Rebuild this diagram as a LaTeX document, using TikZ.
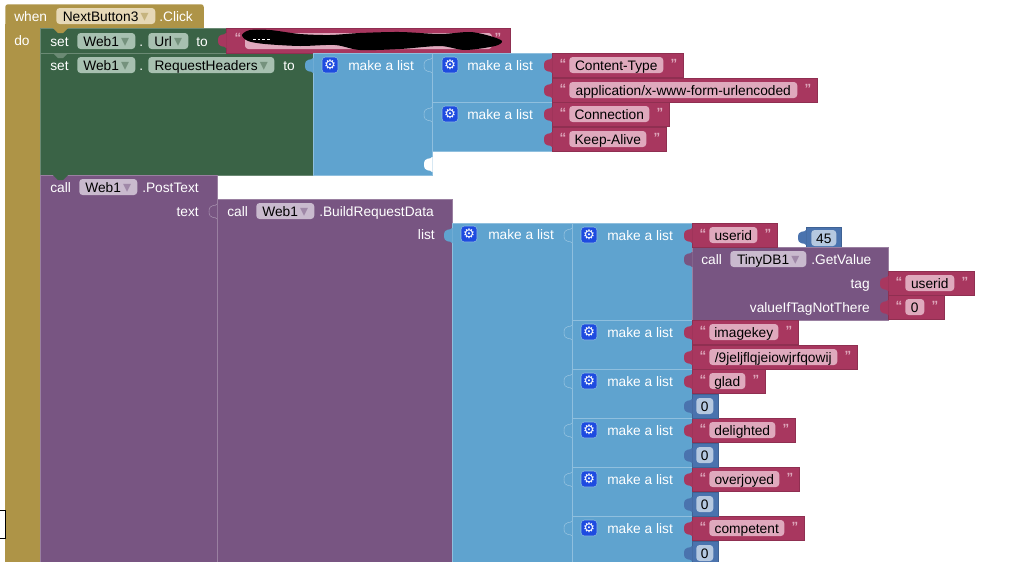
\documentclass[tikz,border=0pt]{standalone}
\usepackage{fontspec}
\setmainfont{Liberation Sans}
\newfontfamily\symfont{DejaVu Sans}
\definecolor{ctrlgold}{HTML}{AE9447}
\definecolor{ctrlgoldpale}{HTML}{E6D8B6}
\definecolor{setgreen}{HTML}{3A6346}
\definecolor{setgreenpale}{HTML}{A7C0B0}
\definecolor{procpurple}{HTML}{785582}
\definecolor{procpurplepale}{HTML}{C9BACE}
\definecolor{listblue}{HTML}{5FA3CF}
\definecolor{listedge}{HTML}{8FBFDE}
\definecolor{gearblue}{HTML}{1E4BE0}
\definecolor{strpink}{HTML}{A8375F}
\definecolor{strpinkpale}{HTML}{DFA9BD}
\definecolor{numblue}{HTML}{4A73AE}
\definecolor{numbluepale}{HTML}{B5C8E0}
\newcommand{\dropmark}[1]{\,\textcolor{#1}{\symfont\fontsize{12}{12}\selectfont ▾}}
\tikzset{
  x=0.75pt, y=-0.75pt,
  every node/.style={font=\fontsize{10.3}{12}\selectfont, inner sep=0pt, text height=8pt, text depth=0pt},
  blockbox/.style={rectangle, anchor=north west, inner sep=0pt},
  lbl/.style={anchor=west, text=white},
  lblr/.style={anchor=east, text=white},
  pill/.style={anchor=west, rounded corners=2.5pt, minimum height=12pt, text=black},
  strbox/.style={blockbox, fill=strpink, draw=strpink!85!black, line width=0.5pt, minimum height=18.2pt},
  strfield/.style={pill, fill=strpinkpale},
  quotemark/.style={anchor=center, text=strpinkpale, font=\bfseries\fontsize{10}{10}\selectfont},
  numbox/.style={blockbox, fill=numblue, draw=numblue!85!black, line width=0.5pt, minimum height=18.2pt},
  numfield/.style={pill, fill=numbluepale},
  listbox/.style={blockbox, fill=listblue, draw=listedge, line width=0.5pt},
  gearbox/.style={anchor=center, fill=gearblue, draw=listedge, line width=0.4pt, rounded corners=2.5pt, minimum size=12pt, text=white, font=\symfont\fontsize{10}{10}\selectfont, text height=6.5pt, text depth=0.5pt},
  pics/tab/.style={code={\fill[#1] (0.5,0) -- (0,0) .. controls (-1,3) and (-8,-1) .. (-8,7.5) .. controls (-8,16) and (-1,12) .. (0,15) -- (0.5,15) -- cycle;}},
  pics/ghost/.style={code={\filldraw[fill=#1, draw=#1!65!white, line width=0.4pt] (0,0) .. controls (-1,3) and (-8,-1) .. (-8,7.5) .. controls (-8,16) and (-1,12) .. (0,15);}},
  pics/notch/.style={code={\fill[#1] (0,0) -- (5,5) -- (10,5) -- (15,0) -- cycle;}},
}
\begin{document}
\begin{tikzpicture}
    \path[use as bounding box] (0,0) rectangle (1024,561);
    \clip (0,0) rectangle (1024,561);

    % Event block
    \node[blockbox, fill=ctrlgold, rounded corners=2pt, minimum width=198.5*0.75pt, minimum height=30*0.75pt] (whenrow) at (5,4) {};
    \node[blockbox, fill=ctrlgold, minimum width=35*0.75pt, minimum height=541*0.75pt] (dorow) at (5,24) {};
    \node[draw=black, fill=white, line width=0.9pt, blockbox, minimum width=6*0.75pt, minimum height=28*0.75pt] (stray) at (-1,510) {};
    \node[lbl] (whentxt) at (14,16) {when};
    \node[pill, fill=ctrlgoldpale, minimum width=99*0.75pt] (btnfield) at (56,16) {NextButton3\dropmark{ctrlgold!70!white}};
    \node[lbl] (clicktxt) at (159,16) {.Click};
    \node[lbl] (dotxt) at (14,40) {do};

    % Setter blocks
    \node[blockbox, fill=setgreen, draw=setgreen!75!white, line width=0.5pt, minimum width=186*0.75pt, minimum height=25*0.75pt] (seturl) at (40,28) {};
    \node[blockbox, fill=setgreen, draw=setgreen!75!white, line width=0.5pt, minimum width=273*0.75pt, minimum height=122*0.75pt] (setheaders) at (40,53) {};
    \pic at (53,28) {notch=ctrlgold};
    \pic at (53,53) {notch=setgreen!75!white};
    \node[lbl] (settxta) at (50,41) {set};
    \node[pill, fill=setgreenpale, minimum width=58*0.75pt] (weba) at (77,41) {Web1\dropmark{setgreen!70!white}};
    \node[lbl] (dota) at (139,41) {.};
    \node[pill, fill=setgreenpale, minimum width=40*0.75pt] (urlfield) at (148,41) {Url\dropmark{setgreen!70!white}};
    \node[lbl] (totxta) at (196,41) {to};
    \node[lbl] (settxtb) at (50,65) {set};
    \node[pill, fill=setgreenpale, minimum width=58*0.75pt] (webb) at (77,65) {Web1\dropmark{setgreen!70!white}};
    \node[lbl] (dotb) at (139,65) {.};
    \node[pill, fill=setgreenpale, minimum width=126*0.75pt] (reqfield) at (148,65) {RequestHeaders\dropmark{setgreen!70!white}};
    \node[lbl] (totxtb) at (283,65) {to};

    % Hidden url string
    \node[strbox, minimum width=284*0.75pt, minimum height=25*0.75pt] (urlstr) at (226,28) {};
    \pic at (226,33) {tab=strpink};
    \node[quotemark] (urlopen) at (238,37) {“};
    \node[quotemark] (urlclose) at (498,37) {”};
    \fill[strpinkpale, rounded corners=2.5pt] (245,33) rectangle (492,49);
    \fill[black] plot[smooth cycle] coordinates {(242,35) (250,30) (270,30) (300,34) (330,35) (360,33) (400,32) (440,34)
      (470,32) (490,36) (502,41) (495,46) (465,50) (440,46) (400,49) (360,50) (335,45) (300,46) (265,44) (248,41)};
    \draw[white, line width=0.6pt, dash pattern=on 2pt off 1.5pt] (253,39) -- (270,39);

    % Header lists
    \node[listbox, minimum width=119*0.75pt, minimum height=122*0.75pt] (headlist) at (313,53) {};
    \pic at (313,58) {tab=listblue};
    \node[gearbox] (gearh) at (330,65) {⚙};
    \node[lbl] (headtxt) at (348,65) {make a list};
    \pic at (432,157) {tab=white};
    \foreach \ytop in {53,102} {
      \node[listbox, minimum width=120*0.75pt, minimum height=49*0.75pt] (hlist\ytop) at (432,\ytop) {};
      \pic at (432,\ytop+5) {ghost=listblue};
      \node[gearbox] (gear\ytop) at (450,\ytop+12) {⚙};
      \node[lbl] (htxt\ytop) at (467,\ytop+12) {make a list};
    }

    % Header strings
    \foreach \x/\y/\r/\t in {552/53/683/Content-Type, 552/78/817/application\slash x-www-form-urlencoded, 552/102/669/Connection, 552/127/666/Keep-Alive} {
      \node[strbox, minimum width=(\r-\x)*0.75pt] (str\y) at (\x,\y) {};
      \pic at (\x,\y+5) {tab=strpink};
      \node[quotemark] (open\y) at (\x+11,\y+10) {“};
      \node[strfield, minimum width=(\r-\x-37)*0.75pt] (field\y) at (\x+17,\y+12) {\t};
      \node[quotemark] (close\y) at (\r-9,\y+10) {”};
    }

    % Post text block
    \node[blockbox, fill=procpurple, draw=procpurple!75!white, line width=0.5pt, minimum width=177*0.75pt, minimum height=390*0.75pt] (posttext) at (40,175) {};
    \pic at (53,175) {notch=setgreen};
    \node[lbl] (calltxta) at (50,187) {call};
    \node[pill, fill=procpurplepale, minimum width=58*0.75pt] (webc) at (79,187) {Web1\dropmark{procpurple!70!white}};
    \node[lbl] (posttxt) at (142,187) {.PostText};
    \node[lblr] (texttxt) at (199,211) {text};

    % Build request block
    \node[blockbox, fill=procpurple, draw=procpurple!75!white, line width=0.5pt, minimum width=235*0.75pt, minimum height=366*0.75pt] (buildreq) at (217,199) {};
    \pic at (217,204) {ghost=procpurple};
    \node[lbl] (calltxtb) at (227,211) {call};
    \node[pill, fill=procpurplepale, minimum width=58*0.75pt] (webd) at (256,211) {Web1\dropmark{procpurple!70!white}};
    \node[lbl] (buildtxt) at (319,211) {.BuildRequestData};
    \node[lblr] (listtxt) at (435,234) {list};

    % Data lists
    \node[listbox, minimum width=120*0.75pt, minimum height=342*0.75pt] (datalist) at (452,223) {};
    \pic at (452,228) {tab=listblue};
    \node[gearbox] (geard) at (469,234) {⚙};
    \node[lbl] (datatxt) at (488,234) {make a list};
    \foreach \ytop/\h in {223/97, 320/49, 369/49, 418/49, 467/49, 516/49} {
      \node[listbox, minimum width=120*0.75pt, minimum height=\h*0.75pt] (dlist\ytop) at (572,\ytop) {};
      \pic at (572,\ytop+5) {ghost=listblue};
      \node[gearbox] (gear\ytop) at (589,\ytop+12) {⚙};
      \node[lbl] (dtxt\ytop) at (607,\ytop+12) {make a list};
    }

    % Stray number
    \node[numbox, minimum width=35*0.75pt, minimum height=22*0.75pt] (numstray) at (806,227) {};
    \pic at (806,230) {tab=numblue};
    \node[numfield, minimum width=25*0.75pt] (numval) at (811,238) {45};

    % Database block
    \node[blockbox, fill=procpurple, draw=procpurple!75!white, line width=0.5pt, minimum width=196*0.75pt, minimum height=73*0.75pt] (getvalue) at (692,247) {};
    \pic at (692,252) {tab=procpurple};
    \node[lbl] (calltxtc) at (701,259) {call};
    \node[pill, fill=procpurplepale, minimum width=76*0.75pt] (tinyfield) at (730,259) {TinyDB1\dropmark{procpurple!70!white}};
    \node[lbl] (gettxt) at (811,259) {.GetValue};
    \node[lblr] (tagtxt) at (870,283) {tag};
    \node[lblr] (iftxt) at (870,307) {valueIfTagNotThere};

    % Strings
    \foreach \x/\y/\r/\t in {692/223/777/userid, 888/271/974/userid, 888/295/944/0, 692/320/798/imagekey, 692/345/857/\slash 9jeljflqjeiowjrfqowij, 692/369/765/glad, 692/418/795/delighted, 692/467/799/overjoyed, 692/516/804/competent} {
      \node[strbox, minimum width=(\r-\x)*0.75pt] (str\y) at (\x,\y) {};
      \pic at (\x,\y+5) {tab=strpink};
      \node[quotemark] (open\y) at (\x+11,\y+10) {“};
      \node[strfield, minimum width=(\r-\x-37)*0.75pt] (field\y) at (\x+17,\y+12) {\t};
      \node[quotemark] (close\y) at (\r-9,\y+10) {”};
    }

    % Numbers
    \foreach \y in {394,443,492,541} {
      \node[numbox] (num\y) at (692,\y) [minimum width=26*0.75pt] {};
      \pic at (692,\y+5) {tab=numblue};
      \node[numfield, minimum width=17*0.75pt] (numf\y) at (696,\y+12) {0};
    }
\end{tikzpicture}
\end{document}
